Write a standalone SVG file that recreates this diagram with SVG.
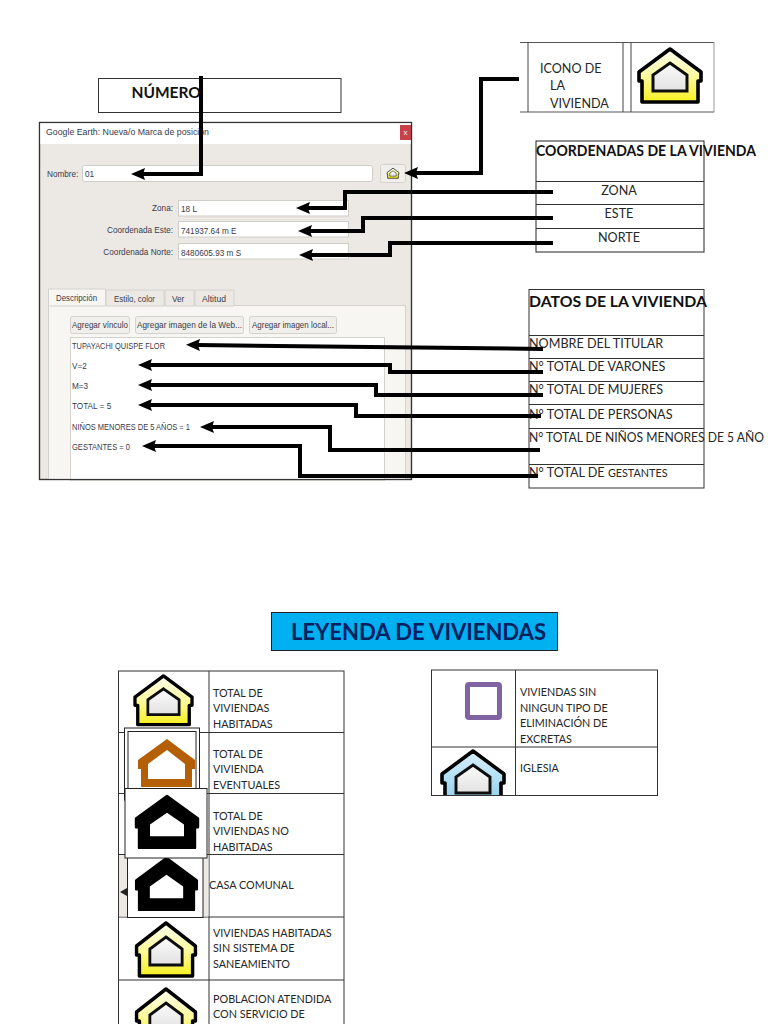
<svg xmlns="http://www.w3.org/2000/svg" xmlns:xlink="http://www.w3.org/1999/xlink" width="768" height="1024" viewBox="0 0 768 1024">
<style>
text{font-family:"Lato","Carlito","Liberation Sans",sans-serif;fill:#262626}
.b{font-weight:700;fill:#111}
.t13{font-size:12.6px}
.t11{font-size:10.8px}
.ui text,.ui{font-family:"Liberation Sans",sans-serif;font-size:8.2px;fill:#3a3a4a}
.cell{fill:#fff;stroke:#333;stroke-width:1}
.ln{stroke:#333;stroke-width:1;fill:none}
.fld{fill:#fff;stroke:#cfcdc8;stroke-width:1}
.btn{fill:#f1efeb;stroke:#d4d2cc;stroke-width:1}
.con{fill:none;stroke:#000;stroke-width:4;marker-end:url(#ah)}
</style>
<defs>
<marker id="ah" markerUnits="userSpaceOnUse" markerWidth="16" markerHeight="14" refX="2" refY="7" orient="auto"><path d="M0 1L2 7L0 13L14 7Z" fill="#000"/></marker>
<linearGradient id="gy" x1="0" y1="0" x2="0" y2="1"><stop offset="0" stop-color="#fffff0"/><stop offset=".5" stop-color="#fdfaa0"/><stop offset="1" stop-color="#f7f020"/></linearGradient>
<linearGradient id="gb" x1="0" y1="0" x2="0" y2="1"><stop offset="0" stop-color="#d8effa"/><stop offset="1" stop-color="#90cfee"/></linearGradient>
<linearGradient id="gh" x1="0" y1="0" x2="0" y2="1"><stop offset="0" stop-color="#fbfbfb"/><stop offset="1" stop-color="#e2e2e2"/></linearGradient>
<filter id="soft" x="-25%" y="-25%" width="150%" height="150%"><feGaussianBlur stdDeviation=".5"/></filter>
<clipPath id="cb"><rect x="432" y="748" width="83" height="47"/></clipPath>
<path id="ho" d="M0 1L31 24V33H28V54H-28V33H-31V24Z"/>
<path id="hi" d="M0 15L17 27V43H-17V27Z"/>
<g id="hy"><use xlink:href="#ho" fill="url(#gy)" stroke="#000" stroke-width="3.6" stroke-linejoin="round" filter="url(#soft)"/><use xlink:href="#hi" fill="url(#gh)" stroke="#111" stroke-width="3" filter="url(#soft)"/></g>
<g id="hb"><use xlink:href="#ho" fill="url(#gb)" stroke="#000" stroke-width="3.6" stroke-linejoin="round" filter="url(#soft)"/><use xlink:href="#hi" fill="url(#gh)" stroke="#111" stroke-width="3" filter="url(#soft)"/></g>
<g id="hk"><use xlink:href="#ho" fill="#000" stroke="#000" stroke-width="2.4" stroke-linejoin="round" filter="url(#soft)"/><path d="M0 18L17 30V42H-17V30Z" fill="#fff" filter="url(#soft)"/></g>
</defs>
<rect width="768" height="1024" fill="#fff"/>

<g id="numero">
<rect x="98.5" y="78.5" width="242.500" height="34" class="cell"/>
<text x="131.500" y="98" class="b" style="font-size:15.500px">NÚMERO</text>
</g>

<g id="dialogo" class="ui">
<rect x="39.500" y="122.500" width="372" height="357" fill="#ece9e4" stroke="#333" stroke-width="1.200"/>
<rect x="40" y="123" width="371" height="21" fill="#fff"/>
<rect x="400" y="125" width="11" height="15" fill="#c9404a"/>
<text x="403.500" y="135" style="fill:#fff;font-size:8px">x</text>
<text x="46" y="135" textLength="163" lengthAdjust="spacingAndGlyphs" style="font-size:9.500px">Google Earth: Nueva/o Marca de posición</text>
<text x="47" y="177">Nombre:</text>
<rect x="82.500" y="165.500" width="290" height="16" rx="2" class="fld"/>
<text x="85" y="177">01</text>
<rect x="380.500" y="164.500" width="25" height="18" rx="2" class="btn"/>
<g transform="translate(393 168) scale(.19)"><use xlink:href="#hy"/></g>
<text x="173" y="211" text-anchor="end">Zona:</text>
<text x="173" y="233" text-anchor="end">Coordenada Este:</text>
<text x="173" y="255" text-anchor="end">Coordenada Norte:</text>
<rect x="178.500" y="200.500" width="170" height="15.500" class="fld"/>
<rect x="178.500" y="221.500" width="170" height="15.500" class="fld"/>
<rect x="178.500" y="243.500" width="170" height="15.500" class="fld"/>
<text x="181" y="212">18 L</text>
<text x="181" y="234">741937.64 m E</text>
<text x="181" y="256">8480605.93 m S</text>
<rect x="48.500" y="305.500" width="357" height="174" fill="#f7f6f3" stroke="#d4d2cc"/>
<path d="M106 306V290H164V306ZM165 306V290H194V306ZM195 306V290H234V306Z" fill="#ece9e4" stroke="#d4d2cc"/>
<path d="M48.500 306V289H105.500V306Z" fill="#f7f6f3" stroke="#d4d2cc"/>
<text x="56" y="301" textLength="41" lengthAdjust="spacingAndGlyphs">Descripción</text>
<text x="114" y="302" textLength="41" lengthAdjust="spacingAndGlyphs">Estilo, color</text>
<text x="172" y="302">Ver</text>
<text x="202" y="302" textLength="24" lengthAdjust="spacingAndGlyphs">Altitud</text>
<rect x="70.500" y="316.500" width="59" height="17" rx="2" class="btn"/>
<rect x="135.500" y="316.500" width="108" height="17" rx="2" class="btn"/>
<rect x="249.500" y="316.500" width="87" height="17" rx="2" class="btn"/>
<text x="72" y="328" textLength="56" lengthAdjust="spacingAndGlyphs">Agregar vínculo</text>
<text x="137" y="328" textLength="105" lengthAdjust="spacingAndGlyphs">Agregar imagen de la Web...</text>
<text x="252" y="328" textLength="82" lengthAdjust="spacingAndGlyphs">Agregar imagen local...</text>
<rect x="70.500" y="337.500" width="314" height="143" fill="#fff" stroke="#d4d2cc"/>
<text x="72" y="349" textLength="93" lengthAdjust="spacingAndGlyphs">TUPAYACHI QUISPE FLOR</text>
<text x="72" y="369">V=2</text>
<text x="72" y="389">M=3</text>
<text x="72" y="409">TOTAL = 5</text>
<text x="72" y="430" textLength="118" lengthAdjust="spacingAndGlyphs">NIÑOS MENORES DE 5 AÑOS = 1</text>
<text x="72" y="450" textLength="58" lengthAdjust="spacingAndGlyphs">GESTANTES = 0</text>
<rect x="39.500" y="122.500" width="372" height="357" fill="none" stroke="#333" stroke-width="1.200"/>
</g>

<g id="icono-vivienda">
<path d="M520 42.500H714M520 112H714" stroke="#555" stroke-width="1" fill="none"/>
<path d="M528 42V112M623 42V112M631 42V112" stroke="#444" stroke-width="1" fill="none"/>
<path d="M714 42V112" stroke="#999" stroke-width="1" fill="none"/>
<text x="540" y="73" class="t13">ICONO DE</text>
<text x="550" y="90" class="t13">LA</text>
<text x="550" y="108" class="t13">VIVIENDA</text>
<use xlink:href="#hy" transform="translate(670 48)"/>
</g>

<g id="coordenadas">
<rect x="536" y="141" width="168" height="111" fill="none" stroke="#222"/>
<path d="M536 181.500H704M536 204.500H704M536 228.500H704" class="ln"/>
<text x="536" y="155.500" class="b" textLength="220" lengthAdjust="spacingAndGlyphs" style="font-size:14.500px">COORDENADAS DE LA VIVIENDA</text>
<text x="619" y="195" text-anchor="middle" class="t13">ZONA</text>
<text x="619" y="218" text-anchor="middle" class="t13">ESTE</text>
<text x="619" y="242" text-anchor="middle" class="t13">NORTE</text>
</g>

<g id="datos">
<rect x="529" y="289.500" width="175" height="198.500" fill="none" stroke="#333"/>
<path d="M529 335.500H704M529 358.500H704M529 381.500H704M529 404.500H704M529 428.500H704M529 464.500H704" class="ln"/>
<text x="529" y="306.500" class="b" textLength="178" lengthAdjust="spacingAndGlyphs" style="font-size:15.500px">DATOS DE LA VIVIENDA</text>
<text x="529" y="348" class="t13">NOMBRE DEL TITULAR</text>
<text x="529" y="371" class="t13">N° TOTAL DE VARONES</text>
<text x="529" y="394" class="t13">N° TOTAL DE MUJERES</text>
<text x="529" y="419" class="t13">N° TOTAL DE PERSONAS</text>
<text x="529" y="442" class="t13" textLength="235" lengthAdjust="spacingAndGlyphs">N° TOTAL DE NIÑOS MENORES DE 5 AÑO</text>
<text x="529" y="477" class="t13">N° TOTAL DE <tspan style="font-size:10.800px">GESTANTES</tspan></text>
</g>

<g id="conectores">
<path class="con" d="M201 76V174H143"/>
<path class="con" d="M519 79H481V173H416"/>
<path class="con" d="M553 192H345V208H308"/>
<path class="con" d="M553 218H363V231H310"/>
<path class="con" d="M553 243H390V255H311"/>
<path class="con" d="M543 349L198 345"/>
<path class="con" d="M543 372H390V365H150"/>
<path class="con" d="M543 395H376V385H150"/>
<path class="con" d="M541 416H356V405H150"/>
<path class="con" d="M540 450H330V427H212"/>
<path class="con" d="M538 476H300V446H154"/>
</g>

<g id="leyenda-titulo">
<rect x="271.500" y="612.500" width="286" height="38" fill="#00b0f0" stroke="#222"/>
<text x="291" y="639.500" textLength="255" lengthAdjust="spacingAndGlyphs" style="font-size:22px;font-weight:700;fill:#002060">LEYENDA DE VIVIENDAS</text>
</g>

<g id="leyenda-izquierda">
<rect x="118.500" y="671" width="225.500" height="360" fill="#fff" stroke="#333"/>
<path d="M209 671V1024M118 732.500H344M118 793.500H344M118 854.500H344M118 917H344M118 980H344" class="ln"/>
<rect x="119" y="855" width="89.500" height="61.500" fill="#ece9e4"/>
<path d="M120 892L127 888V896Z" fill="#222"/>
<g id="ley-habitadas">
<use xlink:href="#hy" transform="translate(163.500 675) scale(.92)"/>
<text x="213" y="697" class="t11">TOTAL DE</text><text x="213" y="712" class="t11">VIVIENDAS</text><text x="213" y="728" class="t11">HABITADAS</text>
</g>
<g id="ley-eventuales">
<rect x="124.500" y="728" width="75" height="72" fill="#fff" stroke="#222"/>
<rect x="128" y="731.500" width="68" height="65" fill="#fff" stroke="#222"/>
<path d="M167 739L195 760V769H192V787H141V769H138V760ZM167 750L148 764V779H185V764Z" fill="#b45f06" fill-rule="evenodd"/>
<text x="213" y="758" class="t11">TOTAL DE</text><text x="213" y="773" class="t11">VIVIENDA</text><text x="213" y="789" class="t11">EVENTUALES</text>
</g>
<g id="ley-comunal">
<rect x="127.500" y="850" width="75.500" height="67.500" fill="#fff" stroke="#222"/>
<use xlink:href="#hk" transform="translate(166.500 857) scale(.98)"/>
<text x="209" y="889" class="t11">CASA COMUNAL</text>
</g>
<g id="ley-no-habitadas">
<rect x="125" y="788.500" width="82" height="69.500" fill="#fff" stroke="#222"/>
<use xlink:href="#hk" transform="translate(167 795) scale(1 .98)"/>
<text x="213" y="820" class="t11">TOTAL DE</text><text x="213" y="835" class="t11">VIVIENDAS NO</text><text x="213" y="851" class="t11">HABITADAS</text>
</g>
<g id="ley-sin-saneamiento">
<use xlink:href="#hy" transform="translate(166 922) scale(.95 1)"/>
<text x="213" y="937" class="t11">VIVIENDAS HABITADAS</text><text x="213" y="952" class="t11">SIN SISTEMA DE</text><text x="213" y="968" class="t11">SANEAMIENTO</text>
</g>
<g id="ley-atendida">
<use xlink:href="#hy" transform="translate(166 988) scale(.95 1)"/>
<text x="213" y="1003" class="t11">POBLACION ATENDIDA</text><text x="213" y="1018" class="t11">CON SERVICIO DE</text>
</g>
</g>

<g id="leyenda-derecha">
<rect x="431.500" y="670" width="226" height="125.500" fill="#fff" stroke="#333"/>
<path d="M515.500 670V795M431 747H658" class="ln"/>
<g id="ley-sin-excretas">
<rect x="467.500" y="684.500" width="32" height="33" rx="1.500" fill="#fff" stroke="#8064a2" stroke-width="5"/>
<text x="520" y="696" class="t11">VIVIENDAS SIN</text><text x="520" y="712" class="t11">NINGUN TIPO DE</text><text x="520" y="727" class="t11">ELIMINACIÓN DE</text><text x="520" y="743" class="t11">EXCRETAS</text>
</g>
<g id="ley-iglesia">
<g clip-path="url(#cb)"><use xlink:href="#hb" transform="translate(473 750)"/></g>
<text x="520" y="772" class="t11">IGLESIA</text>
</g>
</g>
</svg>
